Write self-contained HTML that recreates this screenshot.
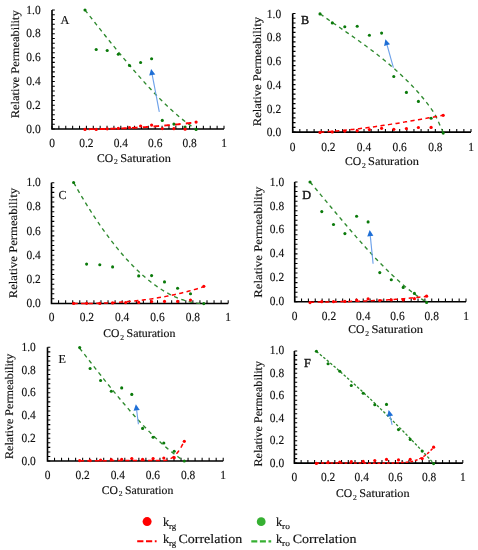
<!DOCTYPE html>
<html><head><meta charset="utf-8"><style>
html,body{margin:0;padding:0;background:#fff;}
svg{display:block;filter:blur(0.4px);}
text{font-family:"Liberation Serif", serif;text-rendering:geometricPrecision;fill:#111;stroke:#111;stroke-width:0.15px;}
</style></head><body>
<svg width="478" height="550" viewBox="0 0 478 550">
<rect width="478" height="550" fill="#fff"/>
<path d="M52.00,129.00h2.8M52.00,129.00v-3.2M52.00,124.24h2.8M58.88,129.00v-3.2M52.00,119.48h2.8M65.76,129.00v-3.2M52.00,114.72h2.8M72.64,129.00v-3.2M52.00,109.96h2.8M79.52,129.00v-3.2M52.00,105.20h2.8M86.40,129.00v-3.2M52.00,100.44h2.8M93.28,129.00v-3.2M52.00,95.68h2.8M100.16,129.00v-3.2M52.00,90.92h2.8M107.04,129.00v-3.2M52.00,86.16h2.8M113.92,129.00v-3.2M52.00,81.40h2.8M120.80,129.00v-3.2M52.00,76.64h2.8M127.68,129.00v-3.2M52.00,71.88h2.8M134.56,129.00v-3.2M52.00,67.12h2.8M141.44,129.00v-3.2M52.00,62.36h2.8M148.32,129.00v-3.2M52.00,57.60h2.8M155.20,129.00v-3.2M52.00,52.84h2.8M162.08,129.00v-3.2M52.00,48.08h2.8M168.96,129.00v-3.2M52.00,43.32h2.8M175.84,129.00v-3.2M52.00,38.56h2.8M182.72,129.00v-3.2M52.00,33.80h2.8M189.60,129.00v-3.2M52.00,29.04h2.8M196.48,129.00v-3.2M52.00,24.28h2.8M203.36,129.00v-3.2M52.00,19.52h2.8M210.24,129.00v-3.2M52.00,14.76h2.8M217.12,129.00v-3.2M52.00,10.00h2.8M224.00,129.00v-3.2" stroke="#000" stroke-width="1.05" fill="none"/>
<path d="M52.00,10.00V129.00H224.00" stroke="#000" stroke-width="1.6" fill="none"/>
<text transform="translate(40.60,132.53) scale(0.93,1)" text-anchor="end" font-size="12.3">0.0</text>
<text transform="translate(40.60,108.73) scale(0.93,1)" text-anchor="end" font-size="12.3">0.2</text>
<text transform="translate(40.60,84.94) scale(0.93,1)" text-anchor="end" font-size="12.3">0.4</text>
<text transform="translate(40.60,61.13) scale(0.93,1)" text-anchor="end" font-size="12.3">0.6</text>
<text transform="translate(40.60,37.33) scale(0.93,1)" text-anchor="end" font-size="12.3">0.8</text>
<text transform="translate(40.60,13.54) scale(0.93,1)" text-anchor="end" font-size="12.3">1.0</text>
<text transform="translate(52.00,147.13) scale(0.93,1)" text-anchor="middle" font-size="12.3">0</text>
<text transform="translate(86.40,147.13) scale(0.93,1)" text-anchor="middle" font-size="12.3">0.2</text>
<text transform="translate(120.80,147.13) scale(0.93,1)" text-anchor="middle" font-size="12.3">0.4</text>
<text transform="translate(155.20,147.13) scale(0.93,1)" text-anchor="middle" font-size="12.3">0.6</text>
<text transform="translate(189.60,147.13) scale(0.93,1)" text-anchor="middle" font-size="12.3">0.8</text>
<text transform="translate(224.00,147.13) scale(0.93,1)" text-anchor="middle" font-size="12.3">1</text>
<text x="97.00" y="161.80" font-size="11.6" textLength="16.2" lengthAdjust="spacingAndGlyphs">CO</text>
<text x="114.00" y="164.40" font-size="7.6">2</text>
<text x="120.20" y="161.80" font-size="11.6" textLength="50.70" lengthAdjust="spacingAndGlyphs">Saturation</text>
<text transform="translate(18.80,64.30) rotate(-90)" text-anchor="middle" font-size="11.6" textLength="108.00" lengthAdjust="spacingAndGlyphs">Relative Permeability</text>
<text x="64.90" y="24.10" text-anchor="middle" font-size="12.2">A</text>
<path d="M85.00,10.00 L86.41,11.80 L87.81,13.59 L89.22,15.39 L90.62,17.18 L92.03,18.97 L93.43,20.76 L94.84,22.54 L96.24,24.33 L97.65,26.11 L99.05,27.88 L100.46,29.66 L101.86,31.43 L103.27,33.19 L104.67,34.96 L106.08,36.72 L107.48,38.47 L108.89,40.22 L110.29,41.97 L111.70,43.71 L113.10,45.44 L114.51,47.17 L115.91,48.90 L117.32,50.62 L118.72,52.33 L120.13,54.03 L121.53,55.73 L122.94,57.43 L124.34,59.11 L125.75,60.79 L127.15,62.46 L128.56,64.13 L129.96,65.78 L131.37,67.43 L132.77,69.07 L134.18,70.71 L135.58,72.33 L136.99,73.94 L138.39,75.55 L139.80,77.14 L141.20,78.73 L142.61,80.31 L144.01,81.87 L145.42,83.43 L146.82,84.98 L148.23,86.51 L149.63,88.04 L151.04,89.55 L152.44,91.05 L153.85,92.54 L155.25,94.02 L156.66,95.48 L158.06,96.93 L159.47,98.37 L160.87,99.79 L162.28,101.20 L163.68,102.59 L165.09,103.96 L166.49,105.32 L167.90,106.66 L169.30,107.99 L170.71,109.29 L172.11,110.58 L173.52,111.84 L174.92,113.09 L176.33,114.32 L177.73,115.52 L179.14,116.70 L180.54,117.87 L181.95,119.01 L183.35,120.12 L184.76,121.22 L186.16,122.29 L187.57,123.33 L188.97,124.35 L190.38,125.34 L191.78,126.31 L193.19,127.25 L194.59,128.17 L196.00,129.05" stroke="#2f8a2f" stroke-width="1.35" stroke-dasharray="4 3.7" fill="none"/>
<path d="M85.00,129.20 L86.40,129.20 L87.80,129.19 L89.20,129.18 L90.61,129.17 L92.01,129.16 L93.41,129.14 L94.81,129.13 L96.21,129.11 L97.61,129.08 L99.01,129.06 L100.41,129.04 L101.82,129.01 L103.22,128.98 L104.62,128.94 L106.02,128.91 L107.42,128.87 L108.82,128.84 L110.22,128.79 L111.62,128.75 L113.03,128.71 L114.43,128.66 L115.83,128.61 L117.23,128.56 L118.63,128.50 L120.03,128.45 L121.43,128.39 L122.83,128.33 L124.24,128.27 L125.64,128.20 L127.04,128.14 L128.44,128.07 L129.84,128.00 L131.24,127.93 L132.64,127.85 L134.04,127.77 L135.45,127.69 L136.85,127.61 L138.25,127.53 L139.65,127.44 L141.05,127.36 L142.45,127.27 L143.85,127.18 L145.25,127.08 L146.66,126.99 L148.06,126.89 L149.46,126.79 L150.86,126.68 L152.26,126.58 L153.66,126.47 L155.06,126.36 L156.46,126.25 L157.87,126.14 L159.27,126.03 L160.67,125.91 L162.07,125.79 L163.47,125.67 L164.87,125.55 L166.27,125.42 L167.67,125.29 L169.08,125.16 L170.48,125.03 L171.88,124.90 L173.28,124.76 L174.68,124.62 L176.08,124.48 L177.48,124.34 L178.88,124.20 L180.29,124.05 L181.69,123.90 L183.09,123.75 L184.49,123.60 L185.89,123.44 L187.29,123.29 L188.69,123.13 L190.09,122.97 L191.50,122.81 L192.90,122.64 L194.30,122.47 L195.70,122.30" stroke="#ff0000" stroke-width="1.9" stroke-dasharray="5.6 5.2" stroke-dashoffset="7.0" fill="none"/>
<circle cx="85.00" cy="10.00" r="1.55" fill="#0a7a0a"/>
<circle cx="85.00" cy="129.40" r="1.6" fill="#ff0000"/>
<circle cx="96.20" cy="49.50" r="1.55" fill="#0a7a0a"/>
<circle cx="96.20" cy="129.40" r="1.6" fill="#ff0000"/>
<circle cx="107.20" cy="50.50" r="1.55" fill="#0a7a0a"/>
<circle cx="107.20" cy="128.80" r="1.6" fill="#ff0000"/>
<circle cx="118.30" cy="54.20" r="1.55" fill="#0a7a0a"/>
<circle cx="118.30" cy="128.30" r="1.6" fill="#ff0000"/>
<circle cx="129.50" cy="65.50" r="1.55" fill="#0a7a0a"/>
<circle cx="129.50" cy="127.50" r="1.6" fill="#ff0000"/>
<circle cx="140.60" cy="62.50" r="1.55" fill="#0a7a0a"/>
<circle cx="140.60" cy="126.00" r="1.6" fill="#ff0000"/>
<circle cx="151.60" cy="58.70" r="1.55" fill="#0a7a0a"/>
<circle cx="151.60" cy="125.10" r="1.6" fill="#ff0000"/>
<circle cx="162.30" cy="120.40" r="1.55" fill="#0a7a0a"/>
<circle cx="162.30" cy="128.60" r="1.6" fill="#ff0000"/>
<circle cx="173.90" cy="124.10" r="1.55" fill="#0a7a0a"/>
<circle cx="173.90" cy="128.70" r="1.6" fill="#ff0000"/>
<circle cx="185.10" cy="127.00" r="1.55" fill="#0a7a0a"/>
<circle cx="185.10" cy="129.20" r="1.6" fill="#ff0000"/>
<circle cx="196.10" cy="129.50" r="1.55" fill="#0a7a0a"/>
<circle cx="196.10" cy="122.10" r="1.6" fill="#ff0000"/>
<line x1="159.30" y1="111.80" x2="152.26" y2="74.99" stroke="#6ea2ea" stroke-width="1.15"/>
<path d="M151.10,68.90L155.31,74.41L149.22,75.57Z" fill="#1f6fd6"/>
<path d="M292.70,132.10h2.8M292.70,132.10v-3.2M292.70,127.35h2.8M299.83,132.10v-3.2M292.70,122.60h2.8M306.96,132.10v-3.2M292.70,117.86h2.8M314.10,132.10v-3.2M292.70,113.11h2.8M321.23,132.10v-3.2M292.70,108.36h2.8M328.36,132.10v-3.2M292.70,103.61h2.8M335.49,132.10v-3.2M292.70,98.86h2.8M342.62,132.10v-3.2M292.70,94.12h2.8M349.76,132.10v-3.2M292.70,89.37h2.8M356.89,132.10v-3.2M292.70,84.62h2.8M364.02,132.10v-3.2M292.70,79.87h2.8M371.15,132.10v-3.2M292.70,75.12h2.8M378.28,132.10v-3.2M292.70,70.38h2.8M385.42,132.10v-3.2M292.70,65.63h2.8M392.55,132.10v-3.2M292.70,60.88h2.8M399.68,132.10v-3.2M292.70,56.13h2.8M406.81,132.10v-3.2M292.70,51.38h2.8M413.94,132.10v-3.2M292.70,46.64h2.8M421.08,132.10v-3.2M292.70,41.89h2.8M428.21,132.10v-3.2M292.70,37.14h2.8M435.34,132.10v-3.2M292.70,32.39h2.8M442.47,132.10v-3.2M292.70,27.64h2.8M449.60,132.10v-3.2M292.70,22.90h2.8M456.74,132.10v-3.2M292.70,18.15h2.8M463.87,132.10v-3.2M292.70,13.40h2.8M471.00,132.10v-3.2" stroke="#000" stroke-width="1.05" fill="none"/>
<path d="M292.70,13.40V132.10H471.00" stroke="#000" stroke-width="1.6" fill="none"/>
<text transform="translate(281.10,136.44) scale(0.93,1)" text-anchor="end" font-size="12.3">0.0</text>
<text transform="translate(281.10,112.69) scale(0.93,1)" text-anchor="end" font-size="12.3">0.2</text>
<text transform="translate(281.10,88.95) scale(0.93,1)" text-anchor="end" font-size="12.3">0.4</text>
<text transform="translate(281.10,65.21) scale(0.93,1)" text-anchor="end" font-size="12.3">0.6</text>
<text transform="translate(281.10,41.47) scale(0.93,1)" text-anchor="end" font-size="12.3">0.8</text>
<text transform="translate(281.10,17.73) scale(0.93,1)" text-anchor="end" font-size="12.3">1.0</text>
<text transform="translate(292.70,150.88) scale(0.93,1)" text-anchor="middle" font-size="12.3">0</text>
<text transform="translate(328.36,150.88) scale(0.93,1)" text-anchor="middle" font-size="12.3">0.2</text>
<text transform="translate(364.02,150.88) scale(0.93,1)" text-anchor="middle" font-size="12.3">0.4</text>
<text transform="translate(399.68,150.88) scale(0.93,1)" text-anchor="middle" font-size="12.3">0.6</text>
<text transform="translate(435.34,150.88) scale(0.93,1)" text-anchor="middle" font-size="12.3">0.8</text>
<text transform="translate(471.00,150.88) scale(0.93,1)" text-anchor="middle" font-size="12.3">1</text>
<text x="344.90" y="165.00" font-size="11.6" textLength="16.2" lengthAdjust="spacingAndGlyphs">CO</text>
<text x="361.90" y="167.60" font-size="7.6">2</text>
<text x="368.10" y="165.00" font-size="11.6" textLength="50.80" lengthAdjust="spacingAndGlyphs">Saturation</text>
<text transform="translate(260.70,71.60) rotate(-90)" text-anchor="middle" font-size="11.6" textLength="109.20" lengthAdjust="spacingAndGlyphs">Relative Permeability</text>
<text x="304.95" y="24.00" text-anchor="middle" font-size="12.2" style="stroke-width:0.4px">B</text>
<path d="M320.20,13.91 L321.76,15.02 L323.31,16.12 L324.87,17.22 L326.43,18.31 L327.98,19.40 L329.54,20.49 L331.10,21.57 L332.66,22.65 L334.21,23.73 L335.77,24.80 L337.33,25.88 L338.88,26.95 L340.44,28.02 L342.00,29.10 L343.55,30.17 L345.11,31.25 L346.67,32.33 L348.23,33.41 L349.78,34.49 L351.34,35.57 L352.90,36.66 L354.45,37.76 L356.01,38.86 L357.57,39.96 L359.12,41.07 L360.68,42.19 L362.24,43.31 L363.79,44.44 L365.35,45.57 L366.91,46.72 L368.47,47.87 L370.02,49.03 L371.58,50.21 L373.14,51.39 L374.69,52.58 L376.25,53.78 L377.81,55.00 L379.36,56.23 L380.92,57.47 L382.48,58.72 L384.04,59.98 L385.59,61.26 L387.15,62.56 L388.71,63.87 L390.26,65.19 L391.82,66.53 L393.38,67.89 L394.93,69.26 L396.49,70.65 L398.05,72.06 L399.61,73.49 L401.16,74.93 L402.72,76.40 L404.28,77.89 L405.83,79.40 L407.39,80.93 L408.95,82.50 L410.50,84.09 L412.06,85.71 L413.62,87.36 L415.17,89.05 L416.73,90.77 L418.29,92.52 L419.85,94.32 L421.40,96.15 L422.96,98.03 L424.52,99.95 L426.07,101.91 L427.63,103.92 L429.19,105.98 L430.74,108.09 L432.30,110.32 L433.86,112.76 L435.42,115.50 L436.97,118.61 L438.53,122.02 L440.09,125.56 L441.64,129.04 L443.20,132.31" stroke="#2f8a2f" stroke-width="1.35" stroke-dasharray="4 3.7" fill="none"/>
<path d="M320.00,132.20 L321.56,132.11 L323.12,132.02 L324.68,131.92 L326.24,131.82 L327.80,131.71 L329.36,131.60 L330.92,131.48 L332.48,131.36 L334.04,131.23 L335.59,131.11 L337.15,130.97 L338.71,130.83 L340.27,130.69 L341.83,130.55 L343.39,130.40 L344.95,130.25 L346.51,130.09 L348.07,129.93 L349.63,129.76 L351.19,129.59 L352.75,129.42 L354.31,129.25 L355.87,129.07 L357.43,128.89 L358.99,128.70 L360.55,128.51 L362.11,128.32 L363.67,128.13 L365.23,127.93 L366.78,127.73 L368.34,127.52 L369.90,127.31 L371.46,127.10 L373.02,126.89 L374.58,126.67 L376.14,126.46 L377.70,126.23 L379.26,126.01 L380.82,125.78 L382.38,125.56 L383.94,125.32 L385.50,125.09 L387.06,124.85 L388.62,124.62 L390.18,124.38 L391.74,124.13 L393.30,123.89 L394.86,123.64 L396.42,123.39 L397.97,123.14 L399.53,122.89 L401.09,122.63 L402.65,122.38 L404.21,122.12 L405.77,121.86 L407.33,121.60 L408.89,121.34 L410.45,121.07 L412.01,120.81 L413.57,120.54 L415.13,120.27 L416.69,120.00 L418.25,119.73 L419.81,119.46 L421.37,119.19 L422.93,118.92 L424.49,118.64 L426.05,118.37 L427.61,118.09 L429.16,117.81 L430.72,117.53 L432.28,117.26 L433.84,116.98 L435.40,116.70 L436.96,116.42 L438.52,116.14 L440.08,115.86 L441.64,115.57 L443.20,115.29" stroke="#ff0000" stroke-width="1.5" stroke-dasharray="4.2 3.4" stroke-dashoffset="0" fill="none"/>
<circle cx="320.00" cy="13.90" r="1.55" fill="#0a7a0a"/>
<circle cx="320.00" cy="132.40" r="1.6" fill="#ff0000"/>
<circle cx="332.30" cy="22.90" r="1.55" fill="#0a7a0a"/>
<circle cx="332.30" cy="131.90" r="1.6" fill="#ff0000"/>
<circle cx="344.80" cy="26.80" r="1.55" fill="#0a7a0a"/>
<circle cx="344.80" cy="131.10" r="1.6" fill="#ff0000"/>
<circle cx="357.20" cy="26.30" r="1.55" fill="#0a7a0a"/>
<circle cx="357.20" cy="130.80" r="1.6" fill="#ff0000"/>
<circle cx="369.40" cy="35.20" r="1.55" fill="#0a7a0a"/>
<circle cx="369.40" cy="129.60" r="1.6" fill="#ff0000"/>
<circle cx="381.60" cy="33.10" r="1.55" fill="#0a7a0a"/>
<circle cx="381.60" cy="128.30" r="1.6" fill="#ff0000"/>
<circle cx="393.80" cy="76.50" r="1.55" fill="#0a7a0a"/>
<circle cx="393.80" cy="129.30" r="1.6" fill="#ff0000"/>
<circle cx="406.40" cy="92.40" r="1.55" fill="#0a7a0a"/>
<circle cx="406.40" cy="128.60" r="1.6" fill="#ff0000"/>
<circle cx="418.40" cy="101.40" r="1.55" fill="#0a7a0a"/>
<circle cx="418.40" cy="127.50" r="1.6" fill="#ff0000"/>
<circle cx="431.10" cy="118.20" r="1.55" fill="#0a7a0a"/>
<circle cx="431.10" cy="127.40" r="1.6" fill="#ff0000"/>
<circle cx="443.20" cy="133.10" r="1.55" fill="#0a7a0a"/>
<circle cx="443.20" cy="115.30" r="1.6" fill="#ff0000"/>
<line x1="393.40" y1="67.70" x2="387.08" y2="45.17" stroke="#6ea2ea" stroke-width="1.15"/>
<path d="M385.40,39.20L390.06,44.33L384.09,46.01Z" fill="#1f6fd6"/>
<path d="M51.50,303.50h2.8M51.50,303.50v-3.2M51.50,298.67h2.8M58.57,303.50v-3.2M51.50,293.84h2.8M65.64,303.50v-3.2M51.50,289.00h2.8M72.70,303.50v-3.2M51.50,284.17h2.8M79.77,303.50v-3.2M51.50,279.34h2.8M86.84,303.50v-3.2M51.50,274.51h2.8M93.91,303.50v-3.2M51.50,269.68h2.8M100.98,303.50v-3.2M51.50,264.84h2.8M108.04,303.50v-3.2M51.50,260.01h2.8M115.11,303.50v-3.2M51.50,255.18h2.8M122.18,303.50v-3.2M51.50,250.35h2.8M129.25,303.50v-3.2M51.50,245.52h2.8M136.32,303.50v-3.2M51.50,240.68h2.8M143.38,303.50v-3.2M51.50,235.85h2.8M150.45,303.50v-3.2M51.50,231.02h2.8M157.52,303.50v-3.2M51.50,226.19h2.8M164.59,303.50v-3.2M51.50,221.36h2.8M171.66,303.50v-3.2M51.50,216.52h2.8M178.72,303.50v-3.2M51.50,211.69h2.8M185.79,303.50v-3.2M51.50,206.86h2.8M192.86,303.50v-3.2M51.50,202.03h2.8M199.93,303.50v-3.2M51.50,197.20h2.8M207.00,303.50v-3.2M51.50,192.36h2.8M214.06,303.50v-3.2M51.50,187.53h2.8M221.13,303.50v-3.2M51.50,182.70h2.8M228.20,303.50v-3.2" stroke="#000" stroke-width="1.05" fill="none"/>
<path d="M51.50,182.70V303.50H228.20" stroke="#000" stroke-width="1.6" fill="none"/>
<text transform="translate(40.80,307.04) scale(0.93,1)" text-anchor="end" font-size="12.3">0.0</text>
<text transform="translate(40.80,282.88) scale(0.93,1)" text-anchor="end" font-size="12.3">0.2</text>
<text transform="translate(40.80,258.72) scale(0.93,1)" text-anchor="end" font-size="12.3">0.4</text>
<text transform="translate(40.80,234.55) scale(0.93,1)" text-anchor="end" font-size="12.3">0.6</text>
<text transform="translate(40.80,210.39) scale(0.93,1)" text-anchor="end" font-size="12.3">0.8</text>
<text transform="translate(40.80,186.23) scale(0.93,1)" text-anchor="end" font-size="12.3">1.0</text>
<text transform="translate(51.50,321.34) scale(0.93,1)" text-anchor="middle" font-size="12.3">0</text>
<text transform="translate(86.84,321.34) scale(0.93,1)" text-anchor="middle" font-size="12.3">0.2</text>
<text transform="translate(122.18,321.34) scale(0.93,1)" text-anchor="middle" font-size="12.3">0.4</text>
<text transform="translate(157.52,321.34) scale(0.93,1)" text-anchor="middle" font-size="12.3">0.6</text>
<text transform="translate(192.86,321.34) scale(0.93,1)" text-anchor="middle" font-size="12.3">0.8</text>
<text transform="translate(228.20,321.34) scale(0.93,1)" text-anchor="middle" font-size="12.3">1</text>
<text x="103.30" y="336.90" font-size="11.6" textLength="16.2" lengthAdjust="spacingAndGlyphs">CO</text>
<text x="120.30" y="339.50" font-size="7.6">2</text>
<text x="126.50" y="336.90" font-size="11.6" textLength="49.00" lengthAdjust="spacingAndGlyphs">Saturation</text>
<text transform="translate(17.30,243.15) rotate(-90)" text-anchor="middle" font-size="11.6" textLength="110.30" lengthAdjust="spacingAndGlyphs">Relative Permeability</text>
<text x="62.55" y="199.20" text-anchor="middle" font-size="12.2">C</text>
<path d="M73.70,182.70 L75.91,186.60 L78.11,190.44 L80.32,194.22 L82.52,197.93 L84.73,201.59 L86.93,205.18 L89.14,208.71 L91.34,212.18 L93.55,215.59 L95.75,218.93 L97.96,222.21 L100.16,225.43 L102.37,228.59 L104.57,231.69 L106.78,234.72 L108.98,237.69 L111.19,240.60 L113.39,243.44 L115.60,246.22 L117.80,248.94 L120.01,251.59 L122.21,254.19 L124.42,256.71 L126.62,259.18 L128.83,261.58 L131.03,263.91 L133.24,266.18 L135.44,268.39 L137.65,270.53 L139.85,272.61 L142.06,274.62 L144.26,276.57 L146.47,278.45 L148.67,280.27 L150.88,282.02 L153.08,283.71 L155.29,285.32 L157.49,286.88 L159.70,288.36 L161.90,289.78 L164.11,291.14 L166.31,292.42 L168.52,293.64 L170.72,294.79 L172.93,295.87 L175.13,296.88 L177.34,297.82 L179.54,298.70 L181.75,299.50 L183.95,300.23 L186.16,300.89 L188.36,301.48 L190.57,302.00 L192.77,302.44 L194.98,302.81 L197.18,303.10 L199.39,303.32 L201.59,303.45 L203.80,303.50" stroke="#2f8a2f" stroke-width="1.35" stroke-dasharray="4 3.7" fill="none"/>
<path d="M73.50,303.50 L75.15,303.51 L76.80,303.52 L78.46,303.52 L80.11,303.52 L81.76,303.51 L83.41,303.51 L85.06,303.49 L86.72,303.48 L88.37,303.46 L90.02,303.44 L91.67,303.41 L93.32,303.38 L94.97,303.34 L96.63,303.30 L98.28,303.26 L99.93,303.21 L101.58,303.16 L103.23,303.10 L104.89,303.03 L106.54,302.97 L108.19,302.89 L109.84,302.81 L111.49,302.73 L113.15,302.64 L114.80,302.55 L116.45,302.45 L118.10,302.34 L119.75,302.23 L121.41,302.11 L123.06,301.99 L124.71,301.86 L126.36,301.73 L128.01,301.59 L129.66,301.44 L131.32,301.28 L132.97,301.12 L134.62,300.96 L136.27,300.78 L137.92,300.60 L139.58,300.41 L141.23,300.22 L142.88,300.02 L144.53,299.81 L146.18,299.59 L147.84,299.37 L149.49,299.13 L151.14,298.90 L152.79,298.65 L154.44,298.39 L156.09,298.13 L157.75,297.86 L159.40,297.58 L161.05,297.29 L162.70,297.00 L164.35,296.69 L166.01,296.38 L167.66,296.06 L169.31,295.73 L170.96,295.39 L172.61,295.04 L174.27,294.68 L175.92,294.32 L177.57,293.94 L179.22,293.56 L180.87,293.16 L182.53,292.76 L184.18,292.34 L185.83,291.92 L187.48,291.49 L189.13,291.05 L190.78,290.59 L192.44,290.13 L194.09,289.65 L195.74,289.17 L197.39,288.68 L199.04,288.17 L200.70,287.65 L202.35,287.13 L204.00,286.59" stroke="#ff0000" stroke-width="1.5" stroke-dasharray="4.2 3.4" stroke-dashoffset="0" fill="none"/>
<circle cx="73.60" cy="182.50" r="1.55" fill="#0a7a0a"/>
<circle cx="73.60" cy="303.40" r="1.6" fill="#ff0000"/>
<circle cx="86.60" cy="264.10" r="1.55" fill="#0a7a0a"/>
<circle cx="86.60" cy="303.30" r="1.6" fill="#ff0000"/>
<circle cx="99.80" cy="264.70" r="1.55" fill="#0a7a0a"/>
<circle cx="99.80" cy="303.40" r="1.6" fill="#ff0000"/>
<circle cx="112.60" cy="266.90" r="1.55" fill="#0a7a0a"/>
<circle cx="112.60" cy="302.90" r="1.6" fill="#ff0000"/>
<circle cx="125.70" cy="302.60" r="1.6" fill="#ff0000"/>
<circle cx="138.70" cy="275.90" r="1.55" fill="#0a7a0a"/>
<circle cx="138.70" cy="302.40" r="1.6" fill="#ff0000"/>
<circle cx="151.60" cy="275.60" r="1.55" fill="#0a7a0a"/>
<circle cx="151.60" cy="301.60" r="1.6" fill="#ff0000"/>
<circle cx="164.50" cy="281.90" r="1.55" fill="#0a7a0a"/>
<circle cx="164.50" cy="301.40" r="1.6" fill="#ff0000"/>
<circle cx="177.60" cy="288.20" r="1.55" fill="#0a7a0a"/>
<circle cx="177.60" cy="301.40" r="1.6" fill="#ff0000"/>
<circle cx="190.50" cy="293.80" r="1.55" fill="#0a7a0a"/>
<circle cx="190.50" cy="300.10" r="1.6" fill="#ff0000"/>
<circle cx="203.80" cy="303.60" r="1.55" fill="#0a7a0a"/>
<circle cx="203.80" cy="286.30" r="1.6" fill="#ff0000"/>
<path d="M294.70,301.80h2.8M294.70,301.80v-3.2M294.70,297.01h2.8M301.55,301.80v-3.2M294.70,292.22h2.8M308.40,301.80v-3.2M294.70,287.42h2.8M315.26,301.80v-3.2M294.70,282.63h2.8M322.11,301.80v-3.2M294.70,277.84h2.8M328.96,301.80v-3.2M294.70,273.05h2.8M335.81,301.80v-3.2M294.70,268.26h2.8M342.66,301.80v-3.2M294.70,263.46h2.8M349.52,301.80v-3.2M294.70,258.67h2.8M356.37,301.80v-3.2M294.70,253.88h2.8M363.22,301.80v-3.2M294.70,249.09h2.8M370.07,301.80v-3.2M294.70,244.30h2.8M376.92,301.80v-3.2M294.70,239.50h2.8M383.78,301.80v-3.2M294.70,234.71h2.8M390.63,301.80v-3.2M294.70,229.92h2.8M397.48,301.80v-3.2M294.70,225.13h2.8M404.33,301.80v-3.2M294.70,220.34h2.8M411.18,301.80v-3.2M294.70,215.54h2.8M418.04,301.80v-3.2M294.70,210.75h2.8M424.89,301.80v-3.2M294.70,205.96h2.8M431.74,301.80v-3.2M294.70,201.17h2.8M438.59,301.80v-3.2M294.70,196.38h2.8M445.44,301.80v-3.2M294.70,191.58h2.8M452.30,301.80v-3.2M294.70,186.79h2.8M459.15,301.80v-3.2M294.70,182.00h2.8M466.00,301.80v-3.2" stroke="#000" stroke-width="1.05" fill="none"/>
<path d="M294.70,182.00V301.80H466.00" stroke="#000" stroke-width="1.6" fill="none"/>
<text transform="translate(284.10,305.34) scale(0.93,1)" text-anchor="end" font-size="12.3">0.0</text>
<text transform="translate(284.10,281.38) scale(0.93,1)" text-anchor="end" font-size="12.3">0.2</text>
<text transform="translate(284.10,257.42) scale(0.93,1)" text-anchor="end" font-size="12.3">0.4</text>
<text transform="translate(284.10,233.46) scale(0.93,1)" text-anchor="end" font-size="12.3">0.6</text>
<text transform="translate(284.10,209.50) scale(0.93,1)" text-anchor="end" font-size="12.3">0.8</text>
<text transform="translate(284.10,185.53) scale(0.93,1)" text-anchor="end" font-size="12.3">1.0</text>
<text transform="translate(294.70,320.14) scale(0.93,1)" text-anchor="middle" font-size="12.3">0</text>
<text transform="translate(328.96,320.14) scale(0.93,1)" text-anchor="middle" font-size="12.3">0.2</text>
<text transform="translate(363.22,320.14) scale(0.93,1)" text-anchor="middle" font-size="12.3">0.4</text>
<text transform="translate(397.48,320.14) scale(0.93,1)" text-anchor="middle" font-size="12.3">0.6</text>
<text transform="translate(431.74,320.14) scale(0.93,1)" text-anchor="middle" font-size="12.3">0.8</text>
<text transform="translate(466.00,320.14) scale(0.93,1)" text-anchor="middle" font-size="12.3">1</text>
<text x="348.20" y="333.20" font-size="11.6" textLength="16.2" lengthAdjust="spacingAndGlyphs">CO</text>
<text x="365.20" y="335.80" font-size="7.6">2</text>
<text x="371.40" y="333.20" font-size="11.6" textLength="51.60" lengthAdjust="spacingAndGlyphs">Saturation</text>
<text transform="translate(262.30,242.10) rotate(-90)" text-anchor="middle" font-size="11.6" textLength="111.20" lengthAdjust="spacingAndGlyphs">Relative Permeability</text>
<text x="306.55" y="198.80" text-anchor="middle" font-size="12.2" style="stroke-width:0.4px">D</text>
<path d="M310.00,182.00 L311.48,183.74 L312.95,185.50 L314.43,187.25 L315.90,189.01 L317.38,190.77 L318.86,192.54 L320.33,194.31 L321.81,196.07 L323.28,197.84 L324.76,199.61 L326.24,201.38 L327.71,203.15 L329.19,204.93 L330.66,206.70 L332.14,208.46 L333.62,210.23 L335.09,212.00 L336.57,213.76 L338.04,215.52 L339.52,217.28 L340.99,219.03 L342.47,220.78 L343.95,222.53 L345.42,224.27 L346.90,226.01 L348.37,227.74 L349.85,229.47 L351.33,231.19 L352.80,232.91 L354.28,234.62 L355.75,236.32 L357.23,238.01 L358.71,239.69 L360.18,241.37 L361.66,243.04 L363.13,244.70 L364.61,246.35 L366.09,247.99 L367.56,249.62 L369.04,251.24 L370.51,252.85 L371.99,254.45 L373.47,256.04 L374.94,257.61 L376.42,259.17 L377.89,260.72 L379.37,262.26 L380.85,263.78 L382.32,265.29 L383.80,266.78 L385.27,268.26 L386.75,269.73 L388.23,271.18 L389.70,272.61 L391.18,274.03 L392.65,275.43 L394.13,276.81 L395.61,278.18 L397.08,279.53 L398.56,280.86 L400.03,282.17 L401.51,283.47 L402.98,284.74 L404.46,285.99 L405.94,287.23 L407.41,288.44 L408.89,289.64 L410.36,290.81 L411.84,291.96 L413.32,293.09 L414.79,294.20 L416.27,295.28 L417.74,296.35 L419.22,297.38 L420.70,298.40 L422.17,299.39 L423.65,300.36 L425.12,301.30 L426.60,302.21" stroke="#2f8a2f" stroke-width="1.35" stroke-dasharray="4 3.7" fill="none"/>
<path d="M310.00,302.20 L311.48,302.17 L312.95,302.15 L314.43,302.12 L315.90,302.09 L317.38,302.07 L318.86,302.04 L320.33,302.01 L321.81,301.99 L323.28,301.96 L324.76,301.94 L326.24,301.91 L327.71,301.88 L329.19,301.85 L330.66,301.83 L332.14,301.80 L333.62,301.77 L335.09,301.74 L336.57,301.71 L338.04,301.68 L339.52,301.65 L340.99,301.62 L342.47,301.59 L343.95,301.56 L345.42,301.52 L346.90,301.49 L348.37,301.45 L349.85,301.41 L351.33,301.37 L352.80,301.33 L354.28,301.29 L355.75,301.25 L357.23,301.20 L358.71,301.16 L360.18,301.11 L361.66,301.06 L363.13,301.01 L364.61,300.96 L366.09,300.90 L367.56,300.85 L369.04,300.79 L370.51,300.73 L371.99,300.67 L373.47,300.60 L374.94,300.54 L376.42,300.47 L377.89,300.39 L379.37,300.32 L380.85,300.24 L382.32,300.17 L383.80,300.08 L385.27,300.00 L386.75,299.91 L388.23,299.82 L389.70,299.73 L391.18,299.63 L392.65,299.54 L394.13,299.43 L395.61,299.33 L397.08,299.22 L398.56,299.11 L400.03,299.00 L401.51,298.88 L402.98,298.76 L404.46,298.63 L405.94,298.50 L407.41,298.37 L408.89,298.24 L410.36,298.10 L411.84,297.95 L413.32,297.81 L414.79,297.66 L416.27,297.50 L417.74,297.34 L419.22,297.18 L420.70,297.01 L422.17,296.84 L423.65,296.67 L425.12,296.49 L426.60,296.30" stroke="#ff0000" stroke-width="1.5" stroke-dasharray="4.2 3.4" stroke-dashoffset="0" fill="none"/>
<circle cx="310.00" cy="182.00" r="1.55" fill="#0a7a0a"/>
<circle cx="310.00" cy="302.60" r="1.6" fill="#ff0000"/>
<circle cx="321.80" cy="211.60" r="1.55" fill="#0a7a0a"/>
<circle cx="321.80" cy="301.70" r="1.6" fill="#ff0000"/>
<circle cx="333.50" cy="224.50" r="1.55" fill="#0a7a0a"/>
<circle cx="333.50" cy="301.70" r="1.6" fill="#ff0000"/>
<circle cx="344.90" cy="233.60" r="1.55" fill="#0a7a0a"/>
<circle cx="344.90" cy="301.40" r="1.6" fill="#ff0000"/>
<circle cx="356.60" cy="216.20" r="1.55" fill="#0a7a0a"/>
<circle cx="356.60" cy="300.00" r="1.6" fill="#ff0000"/>
<circle cx="368.10" cy="221.90" r="1.55" fill="#0a7a0a"/>
<circle cx="368.10" cy="298.90" r="1.6" fill="#ff0000"/>
<circle cx="379.80" cy="272.60" r="1.55" fill="#0a7a0a"/>
<circle cx="379.80" cy="300.50" r="1.6" fill="#ff0000"/>
<circle cx="391.30" cy="279.80" r="1.55" fill="#0a7a0a"/>
<circle cx="391.30" cy="299.90" r="1.6" fill="#ff0000"/>
<circle cx="403.20" cy="287.40" r="1.55" fill="#0a7a0a"/>
<circle cx="403.20" cy="299.90" r="1.6" fill="#ff0000"/>
<circle cx="414.40" cy="293.40" r="1.55" fill="#0a7a0a"/>
<circle cx="414.40" cy="298.70" r="1.6" fill="#ff0000"/>
<circle cx="426.60" cy="302.40" r="1.55" fill="#0a7a0a"/>
<circle cx="426.60" cy="296.20" r="1.6" fill="#ff0000"/>
<line x1="373.10" y1="263.80" x2="370.32" y2="236.17" stroke="#6ea2ea" stroke-width="1.15"/>
<path d="M369.70,230.00L373.40,235.86L367.24,236.48Z" fill="#1f6fd6"/>
<path d="M47.50,461.00h2.8M47.50,461.00v-3.2M47.50,456.45h2.8M54.53,461.00v-3.2M47.50,451.90h2.8M61.56,461.00v-3.2M47.50,447.36h2.8M68.58,461.00v-3.2M47.50,442.81h2.8M75.61,461.00v-3.2M47.50,438.26h2.8M82.64,461.00v-3.2M47.50,433.71h2.8M89.67,461.00v-3.2M47.50,429.16h2.8M96.70,461.00v-3.2M47.50,424.62h2.8M103.72,461.00v-3.2M47.50,420.07h2.8M110.75,461.00v-3.2M47.50,415.52h2.8M117.78,461.00v-3.2M47.50,410.97h2.8M124.81,461.00v-3.2M47.50,406.42h2.8M131.84,461.00v-3.2M47.50,401.88h2.8M138.86,461.00v-3.2M47.50,397.33h2.8M145.89,461.00v-3.2M47.50,392.78h2.8M152.92,461.00v-3.2M47.50,388.23h2.8M159.95,461.00v-3.2M47.50,383.68h2.8M166.98,461.00v-3.2M47.50,379.14h2.8M174.00,461.00v-3.2M47.50,374.59h2.8M181.03,461.00v-3.2M47.50,370.04h2.8M188.06,461.00v-3.2M47.50,365.49h2.8M195.09,461.00v-3.2M47.50,360.94h2.8M202.12,461.00v-3.2M47.50,356.40h2.8M209.14,461.00v-3.2M47.50,351.85h2.8M216.17,461.00v-3.2M47.50,347.30h2.8M223.20,461.00v-3.2" stroke="#000" stroke-width="1.05" fill="none"/>
<path d="M47.50,347.30V461.00H223.20" stroke="#000" stroke-width="1.6" fill="none"/>
<text transform="translate(35.80,464.54) scale(0.93,1)" text-anchor="end" font-size="12.3">0.0</text>
<text transform="translate(35.80,441.80) scale(0.93,1)" text-anchor="end" font-size="12.3">0.2</text>
<text transform="translate(35.80,419.06) scale(0.93,1)" text-anchor="end" font-size="12.3">0.4</text>
<text transform="translate(35.80,396.31) scale(0.93,1)" text-anchor="end" font-size="12.3">0.6</text>
<text transform="translate(35.80,373.58) scale(0.93,1)" text-anchor="end" font-size="12.3">0.8</text>
<text transform="translate(35.80,350.84) scale(0.93,1)" text-anchor="end" font-size="12.3">1.0</text>
<text transform="translate(47.50,478.54) scale(0.93,1)" text-anchor="middle" font-size="12.3">0</text>
<text transform="translate(82.64,478.54) scale(0.93,1)" text-anchor="middle" font-size="12.3">0.2</text>
<text transform="translate(117.78,478.54) scale(0.93,1)" text-anchor="middle" font-size="12.3">0.4</text>
<text transform="translate(152.92,478.54) scale(0.93,1)" text-anchor="middle" font-size="12.3">0.6</text>
<text transform="translate(188.06,478.54) scale(0.93,1)" text-anchor="middle" font-size="12.3">0.8</text>
<text transform="translate(223.20,478.54) scale(0.93,1)" text-anchor="middle" font-size="12.3">1</text>
<text x="101.70" y="493.50" font-size="11.6" textLength="16.2" lengthAdjust="spacingAndGlyphs">CO</text>
<text x="118.70" y="496.10" font-size="7.6">2</text>
<text x="124.90" y="493.50" font-size="11.6" textLength="48.40" lengthAdjust="spacingAndGlyphs">Saturation</text>
<text transform="translate(13.20,406.40) rotate(-90)" text-anchor="middle" font-size="11.6" textLength="105.20" lengthAdjust="spacingAndGlyphs">Relative Permeability</text>
<text x="62.30" y="363.40" text-anchor="middle" font-size="12.2">E</text>
<path d="M79.60,348.12 L80.92,349.83 L82.25,351.53 L83.57,353.24 L84.90,354.95 L86.22,356.65 L87.54,358.36 L88.87,360.06 L90.19,361.76 L91.52,363.46 L92.84,365.16 L94.16,366.86 L95.49,368.55 L96.81,370.24 L98.14,371.93 L99.46,373.61 L100.78,375.29 L102.11,376.97 L103.43,378.64 L104.76,380.30 L106.08,381.96 L107.41,383.62 L108.73,385.27 L110.05,386.92 L111.38,388.55 L112.70,390.19 L114.03,391.81 L115.35,393.43 L116.67,395.04 L118.00,396.65 L119.32,398.24 L120.65,399.83 L121.97,401.41 L123.29,402.98 L124.62,404.54 L125.94,406.09 L127.27,407.64 L128.59,409.17 L129.91,410.70 L131.24,412.21 L132.56,413.71 L133.89,415.20 L135.21,416.68 L136.53,418.15 L137.86,419.61 L139.18,421.06 L140.51,422.49 L141.83,423.91 L143.15,425.32 L144.48,426.71 L145.80,428.09 L147.13,429.46 L148.45,430.81 L149.77,432.15 L151.10,433.48 L152.42,434.79 L153.75,436.08 L155.07,437.36 L156.39,438.62 L157.72,439.87 L159.04,441.10 L160.37,442.32 L161.69,443.52 L163.02,444.70 L164.34,445.86 L165.66,447.01 L166.99,448.13 L168.31,449.24 L169.64,450.33 L170.96,451.41 L172.28,452.46 L173.61,453.49 L174.93,454.51 L176.26,455.50 L177.58,456.48 L178.90,457.43 L180.23,458.36 L181.55,459.28 L182.88,460.17 L184.20,461.04" stroke="#2f8a2f" stroke-width="1.35" stroke-dasharray="4 3.7" fill="none"/>
<path d="M79.70,460.80 L81.02,460.79 L82.35,460.78 L83.67,460.77 L84.99,460.77 L86.31,460.76 L87.64,460.75 L88.96,460.74 L90.28,460.73 L91.61,460.73 L92.93,460.72 L94.25,460.71 L95.57,460.70 L96.90,460.70 L98.22,460.69 L99.54,460.68 L100.86,460.67 L102.19,460.67 L103.51,460.66 L104.83,460.65 L106.16,460.65 L107.48,460.64 L108.80,460.63 L110.12,460.63 L111.45,460.62 L112.77,460.61 L114.09,460.61 L115.42,460.60 L116.74,460.60 L118.06,460.59 L119.38,460.59 L120.71,460.58 L122.03,460.58 L123.35,460.57 L124.67,460.57 L126.00,460.57 L127.32,460.56 L128.64,460.56 L129.97,460.55 L131.29,460.55 L132.61,460.55 L133.93,460.55 L135.26,460.54 L136.58,460.54 L137.90,460.54 L139.23,460.54 L140.55,460.54 L141.87,460.53 L143.19,460.53 L144.52,460.53 L145.84,460.53 L147.16,460.53 L148.48,460.53 L149.81,460.53 L151.13,460.53 L152.45,460.53 L153.78,460.53 L155.10,460.54 L156.42,460.54 L157.74,460.54 L159.07,460.54 L160.39,460.54 L161.71,460.54 L163.04,460.51 L164.36,460.42 L165.68,460.26 L167.00,460.00 L168.33,459.63 L169.65,459.11 L170.97,458.44 L172.29,457.61 L173.62,456.60 L174.94,455.41 L176.26,454.02 L177.59,452.42 L178.91,450.61 L180.23,448.59 L181.55,446.36 L182.88,443.92 L184.20,441.29" stroke="#ff0000" stroke-width="1.5" stroke-dasharray="4.2 3.4" stroke-dashoffset="0" fill="none"/>
<circle cx="79.70" cy="347.60" r="1.55" fill="#0a7a0a"/>
<circle cx="79.70" cy="460.60" r="1.6" fill="#ff0000"/>
<circle cx="90.10" cy="368.50" r="1.55" fill="#0a7a0a"/>
<circle cx="90.10" cy="460.60" r="1.6" fill="#ff0000"/>
<circle cx="100.60" cy="380.50" r="1.55" fill="#0a7a0a"/>
<circle cx="100.60" cy="460.00" r="1.6" fill="#ff0000"/>
<circle cx="111.30" cy="391.30" r="1.55" fill="#0a7a0a"/>
<circle cx="111.30" cy="459.70" r="1.6" fill="#ff0000"/>
<circle cx="121.70" cy="387.90" r="1.55" fill="#0a7a0a"/>
<circle cx="121.70" cy="459.40" r="1.6" fill="#ff0000"/>
<circle cx="131.80" cy="394.40" r="1.55" fill="#0a7a0a"/>
<circle cx="131.80" cy="458.50" r="1.6" fill="#ff0000"/>
<circle cx="142.60" cy="428.40" r="1.55" fill="#0a7a0a"/>
<circle cx="142.60" cy="459.40" r="1.6" fill="#ff0000"/>
<circle cx="153.10" cy="437.20" r="1.55" fill="#0a7a0a"/>
<circle cx="153.10" cy="458.60" r="1.6" fill="#ff0000"/>
<circle cx="163.80" cy="443.00" r="1.55" fill="#0a7a0a"/>
<circle cx="163.80" cy="458.00" r="1.6" fill="#ff0000"/>
<circle cx="174.20" cy="451.30" r="1.55" fill="#0a7a0a"/>
<circle cx="174.20" cy="457.70" r="1.6" fill="#ff0000"/>
<circle cx="184.30" cy="461.00" r="1.55" fill="#0a7a0a"/>
<circle cx="184.30" cy="441.30" r="1.6" fill="#ff0000"/>
<line x1="138.40" y1="424.30" x2="136.67" y2="410.35" stroke="#6ea2ea" stroke-width="1.15"/>
<path d="M135.90,404.20L139.74,409.97L133.59,410.74Z" fill="#1f6fd6"/>
<path d="M294.40,463.10h2.8M294.40,463.10v-3.2M294.40,458.61h2.8M301.14,463.10v-3.2M294.40,454.12h2.8M307.87,463.10v-3.2M294.40,449.64h2.8M314.61,463.10v-3.2M294.40,445.15h2.8M321.34,463.10v-3.2M294.40,440.66h2.8M328.08,463.10v-3.2M294.40,436.17h2.8M334.82,463.10v-3.2M294.40,431.68h2.8M341.55,463.10v-3.2M294.40,427.20h2.8M348.29,463.10v-3.2M294.40,422.71h2.8M355.02,463.10v-3.2M294.40,418.22h2.8M361.76,463.10v-3.2M294.40,413.73h2.8M368.50,463.10v-3.2M294.40,409.24h2.8M375.23,463.10v-3.2M294.40,404.76h2.8M381.97,463.10v-3.2M294.40,400.27h2.8M388.70,463.10v-3.2M294.40,395.78h2.8M395.44,463.10v-3.2M294.40,391.29h2.8M402.18,463.10v-3.2M294.40,386.80h2.8M408.91,463.10v-3.2M294.40,382.32h2.8M415.65,463.10v-3.2M294.40,377.83h2.8M422.38,463.10v-3.2M294.40,373.34h2.8M429.12,463.10v-3.2M294.40,368.85h2.8M435.86,463.10v-3.2M294.40,364.36h2.8M442.59,463.10v-3.2M294.40,359.88h2.8M449.33,463.10v-3.2M294.40,355.39h2.8M456.06,463.10v-3.2M294.40,350.90h2.8M462.80,463.10v-3.2" stroke="#000" stroke-width="1.05" fill="none"/>
<path d="M294.40,350.90V463.10H462.80" stroke="#000" stroke-width="1.6" fill="none"/>
<text transform="translate(284.10,466.64) scale(0.93,1)" text-anchor="end" font-size="12.3">0.0</text>
<text transform="translate(284.10,444.20) scale(0.93,1)" text-anchor="end" font-size="12.3">0.2</text>
<text transform="translate(284.10,421.76) scale(0.93,1)" text-anchor="end" font-size="12.3">0.4</text>
<text transform="translate(284.10,399.31) scale(0.93,1)" text-anchor="end" font-size="12.3">0.6</text>
<text transform="translate(284.10,376.88) scale(0.93,1)" text-anchor="end" font-size="12.3">0.8</text>
<text transform="translate(284.10,354.44) scale(0.93,1)" text-anchor="end" font-size="12.3">1.0</text>
<text transform="translate(294.40,480.84) scale(0.93,1)" text-anchor="middle" font-size="12.3">0</text>
<text transform="translate(328.08,480.84) scale(0.93,1)" text-anchor="middle" font-size="12.3">0.2</text>
<text transform="translate(361.76,480.84) scale(0.93,1)" text-anchor="middle" font-size="12.3">0.4</text>
<text transform="translate(395.44,480.84) scale(0.93,1)" text-anchor="middle" font-size="12.3">0.6</text>
<text transform="translate(429.12,480.84) scale(0.93,1)" text-anchor="middle" font-size="12.3">0.8</text>
<text transform="translate(462.80,480.84) scale(0.93,1)" text-anchor="middle" font-size="12.3">1</text>
<text x="336.10" y="496.90" font-size="11.6" textLength="16.2" lengthAdjust="spacingAndGlyphs">CO</text>
<text x="353.10" y="499.50" font-size="7.6">2</text>
<text x="359.30" y="496.90" font-size="11.6" textLength="50.30" lengthAdjust="spacingAndGlyphs">Saturation</text>
<text transform="translate(262.00,413.75) rotate(-90)" text-anchor="middle" font-size="11.6" textLength="105.50" lengthAdjust="spacingAndGlyphs">Relative Permeability</text>
<text x="307.45" y="367.00" text-anchor="middle" font-size="12.2" style="stroke-width:0.4px">F</text>
<path d="M316.40,351.42 L318.39,353.05 L320.37,354.70 L322.36,356.35 L324.35,358.02 L326.33,359.69 L328.32,361.37 L330.31,363.06 L332.29,364.76 L334.28,366.47 L336.26,368.19 L338.25,369.91 L340.24,371.65 L342.22,373.39 L344.21,375.14 L346.20,376.91 L348.18,378.68 L350.17,380.46 L352.16,382.25 L354.14,384.04 L356.13,385.85 L358.12,387.67 L360.10,389.49 L362.09,391.33 L364.07,393.17 L366.06,395.02 L368.05,396.88 L370.03,398.75 L372.02,400.63 L374.01,402.52 L375.99,404.41 L377.98,406.32 L379.97,408.23 L381.95,410.15 L383.94,412.09 L385.93,414.03 L387.91,415.98 L389.90,417.94 L391.88,419.90 L393.87,421.88 L395.86,423.87 L397.84,425.86 L399.83,427.87 L401.82,429.88 L403.80,431.90 L405.79,433.93 L407.78,435.97 L409.76,438.02 L411.75,440.08 L413.74,442.14 L415.72,444.22 L417.71,446.30 L419.69,448.40 L421.68,450.50 L423.67,452.61 L425.65,454.73 L427.64,456.86 L429.63,459.00 L431.61,461.14 L433.60,463.30" stroke="#2f8a2f" stroke-width="1.35" stroke-dasharray="2.6 1.9" fill="none"/>
<path d="M316.40,463.21 L317.88,463.16 L319.37,463.12 L320.85,463.09 L322.33,463.05 L323.82,463.03 L325.30,463.00 L326.78,462.98 L328.27,462.97 L329.75,462.95 L331.24,462.94 L332.72,462.94 L334.20,462.93 L335.69,462.93 L337.17,462.93 L338.65,462.93 L340.14,462.94 L341.62,462.95 L343.10,462.95 L344.59,462.96 L346.07,462.98 L347.55,462.99 L349.04,463.00 L350.52,463.02 L352.01,463.03 L353.49,463.05 L354.97,463.06 L356.46,463.08 L357.94,463.09 L359.42,463.11 L360.91,463.12 L362.39,463.13 L363.87,463.15 L365.36,463.16 L366.84,463.17 L368.32,463.18 L369.81,463.18 L371.29,463.19 L372.77,463.19 L374.26,463.19 L375.74,463.19 L377.23,463.19 L378.71,463.18 L380.19,463.17 L381.68,463.16 L383.16,463.14 L384.64,463.12 L386.13,463.10 L387.61,463.07 L389.09,463.04 L390.58,463.01 L392.06,462.97 L393.54,462.92 L395.03,462.87 L396.51,462.82 L397.99,462.76 L399.48,462.69 L400.96,462.62 L402.45,462.54 L403.93,462.45 L405.41,462.33 L406.90,462.18 L408.38,461.99 L409.86,461.77 L411.35,461.49 L412.83,461.16 L414.31,460.77 L415.80,460.31 L417.28,459.77 L418.76,459.16 L420.25,458.45 L421.73,457.65 L423.22,456.76 L424.70,455.75 L426.18,454.63 L427.67,453.39 L429.15,452.03 L430.63,450.53 L432.12,448.89 L433.60,447.11" stroke="#ff0000" stroke-width="1.5" stroke-dasharray="2.8 1.9" stroke-dashoffset="0" fill="none"/>
<circle cx="316.40" cy="351.20" r="1.55" fill="#0a7a0a"/>
<circle cx="316.40" cy="463.40" r="1.6" fill="#ff0000"/>
<circle cx="328.10" cy="363.70" r="1.55" fill="#0a7a0a"/>
<circle cx="328.10" cy="462.60" r="1.6" fill="#ff0000"/>
<circle cx="339.80" cy="371.30" r="1.55" fill="#0a7a0a"/>
<circle cx="339.80" cy="462.10" r="1.6" fill="#ff0000"/>
<circle cx="351.30" cy="385.50" r="1.55" fill="#0a7a0a"/>
<circle cx="351.30" cy="461.70" r="1.6" fill="#ff0000"/>
<circle cx="363.20" cy="393.20" r="1.55" fill="#0a7a0a"/>
<circle cx="363.20" cy="461.40" r="1.6" fill="#ff0000"/>
<circle cx="374.80" cy="404.80" r="1.55" fill="#0a7a0a"/>
<circle cx="374.80" cy="460.50" r="1.6" fill="#ff0000"/>
<circle cx="386.50" cy="404.40" r="1.55" fill="#0a7a0a"/>
<circle cx="386.50" cy="459.40" r="1.6" fill="#ff0000"/>
<circle cx="398.50" cy="429.60" r="1.55" fill="#0a7a0a"/>
<circle cx="398.50" cy="459.90" r="1.6" fill="#ff0000"/>
<circle cx="410.20" cy="439.40" r="1.55" fill="#0a7a0a"/>
<circle cx="410.20" cy="459.40" r="1.6" fill="#ff0000"/>
<circle cx="422.20" cy="451.10" r="1.55" fill="#0a7a0a"/>
<circle cx="422.20" cy="458.60" r="1.6" fill="#ff0000"/>
<circle cx="433.60" cy="463.60" r="1.55" fill="#0a7a0a"/>
<circle cx="433.60" cy="447.20" r="1.6" fill="#ff0000"/>
<line x1="392.10" y1="424.80" x2="390.10" y2="416.14" stroke="#6ea2ea" stroke-width="1.15"/>
<path d="M388.70,410.10L393.12,415.44L387.08,416.84Z" fill="#1f6fd6"/>
<circle cx="147.1" cy="521.6" r="4.5" fill="#ff0000"/>
<circle cx="261.2" cy="521.7" r="4.4" fill="#36b032"/>
<text x="162.90" y="526.3" font-size="12.4">k</text>
<text x="168.90" y="529.0" font-size="8.6" textLength="7.2" lengthAdjust="spacingAndGlyphs">rg</text>
<text x="276.00" y="526.3" font-size="12.4">k</text>
<text x="282.00" y="529.0" font-size="8.6" textLength="7.9" lengthAdjust="spacingAndGlyphs">ro</text>
<path d="M137.2,541.3H156.6" stroke="#ff0000" stroke-width="2.1" stroke-dasharray="6.2 2.6"/>
<path d="M251.3,541.4H271.2" stroke="#36b032" stroke-width="2.1" stroke-dasharray="6.0 2.6"/>
<text x="162.90" y="543.2" font-size="12.4">k</text>
<text x="168.90" y="546.0" font-size="8.6" textLength="7.2" lengthAdjust="spacingAndGlyphs">rg</text>
<text x="178.40" y="543.3" font-size="12.9" textLength="63.80" lengthAdjust="spacingAndGlyphs">Correlation</text>
<text x="276.00" y="543.2" font-size="12.4">k</text>
<text x="282.00" y="546.0" font-size="8.6" textLength="7.9" lengthAdjust="spacingAndGlyphs">ro</text>
<text x="292.70" y="543.3" font-size="12.9" textLength="63.90" lengthAdjust="spacingAndGlyphs">Correlation</text>
</svg>
</body></html>
